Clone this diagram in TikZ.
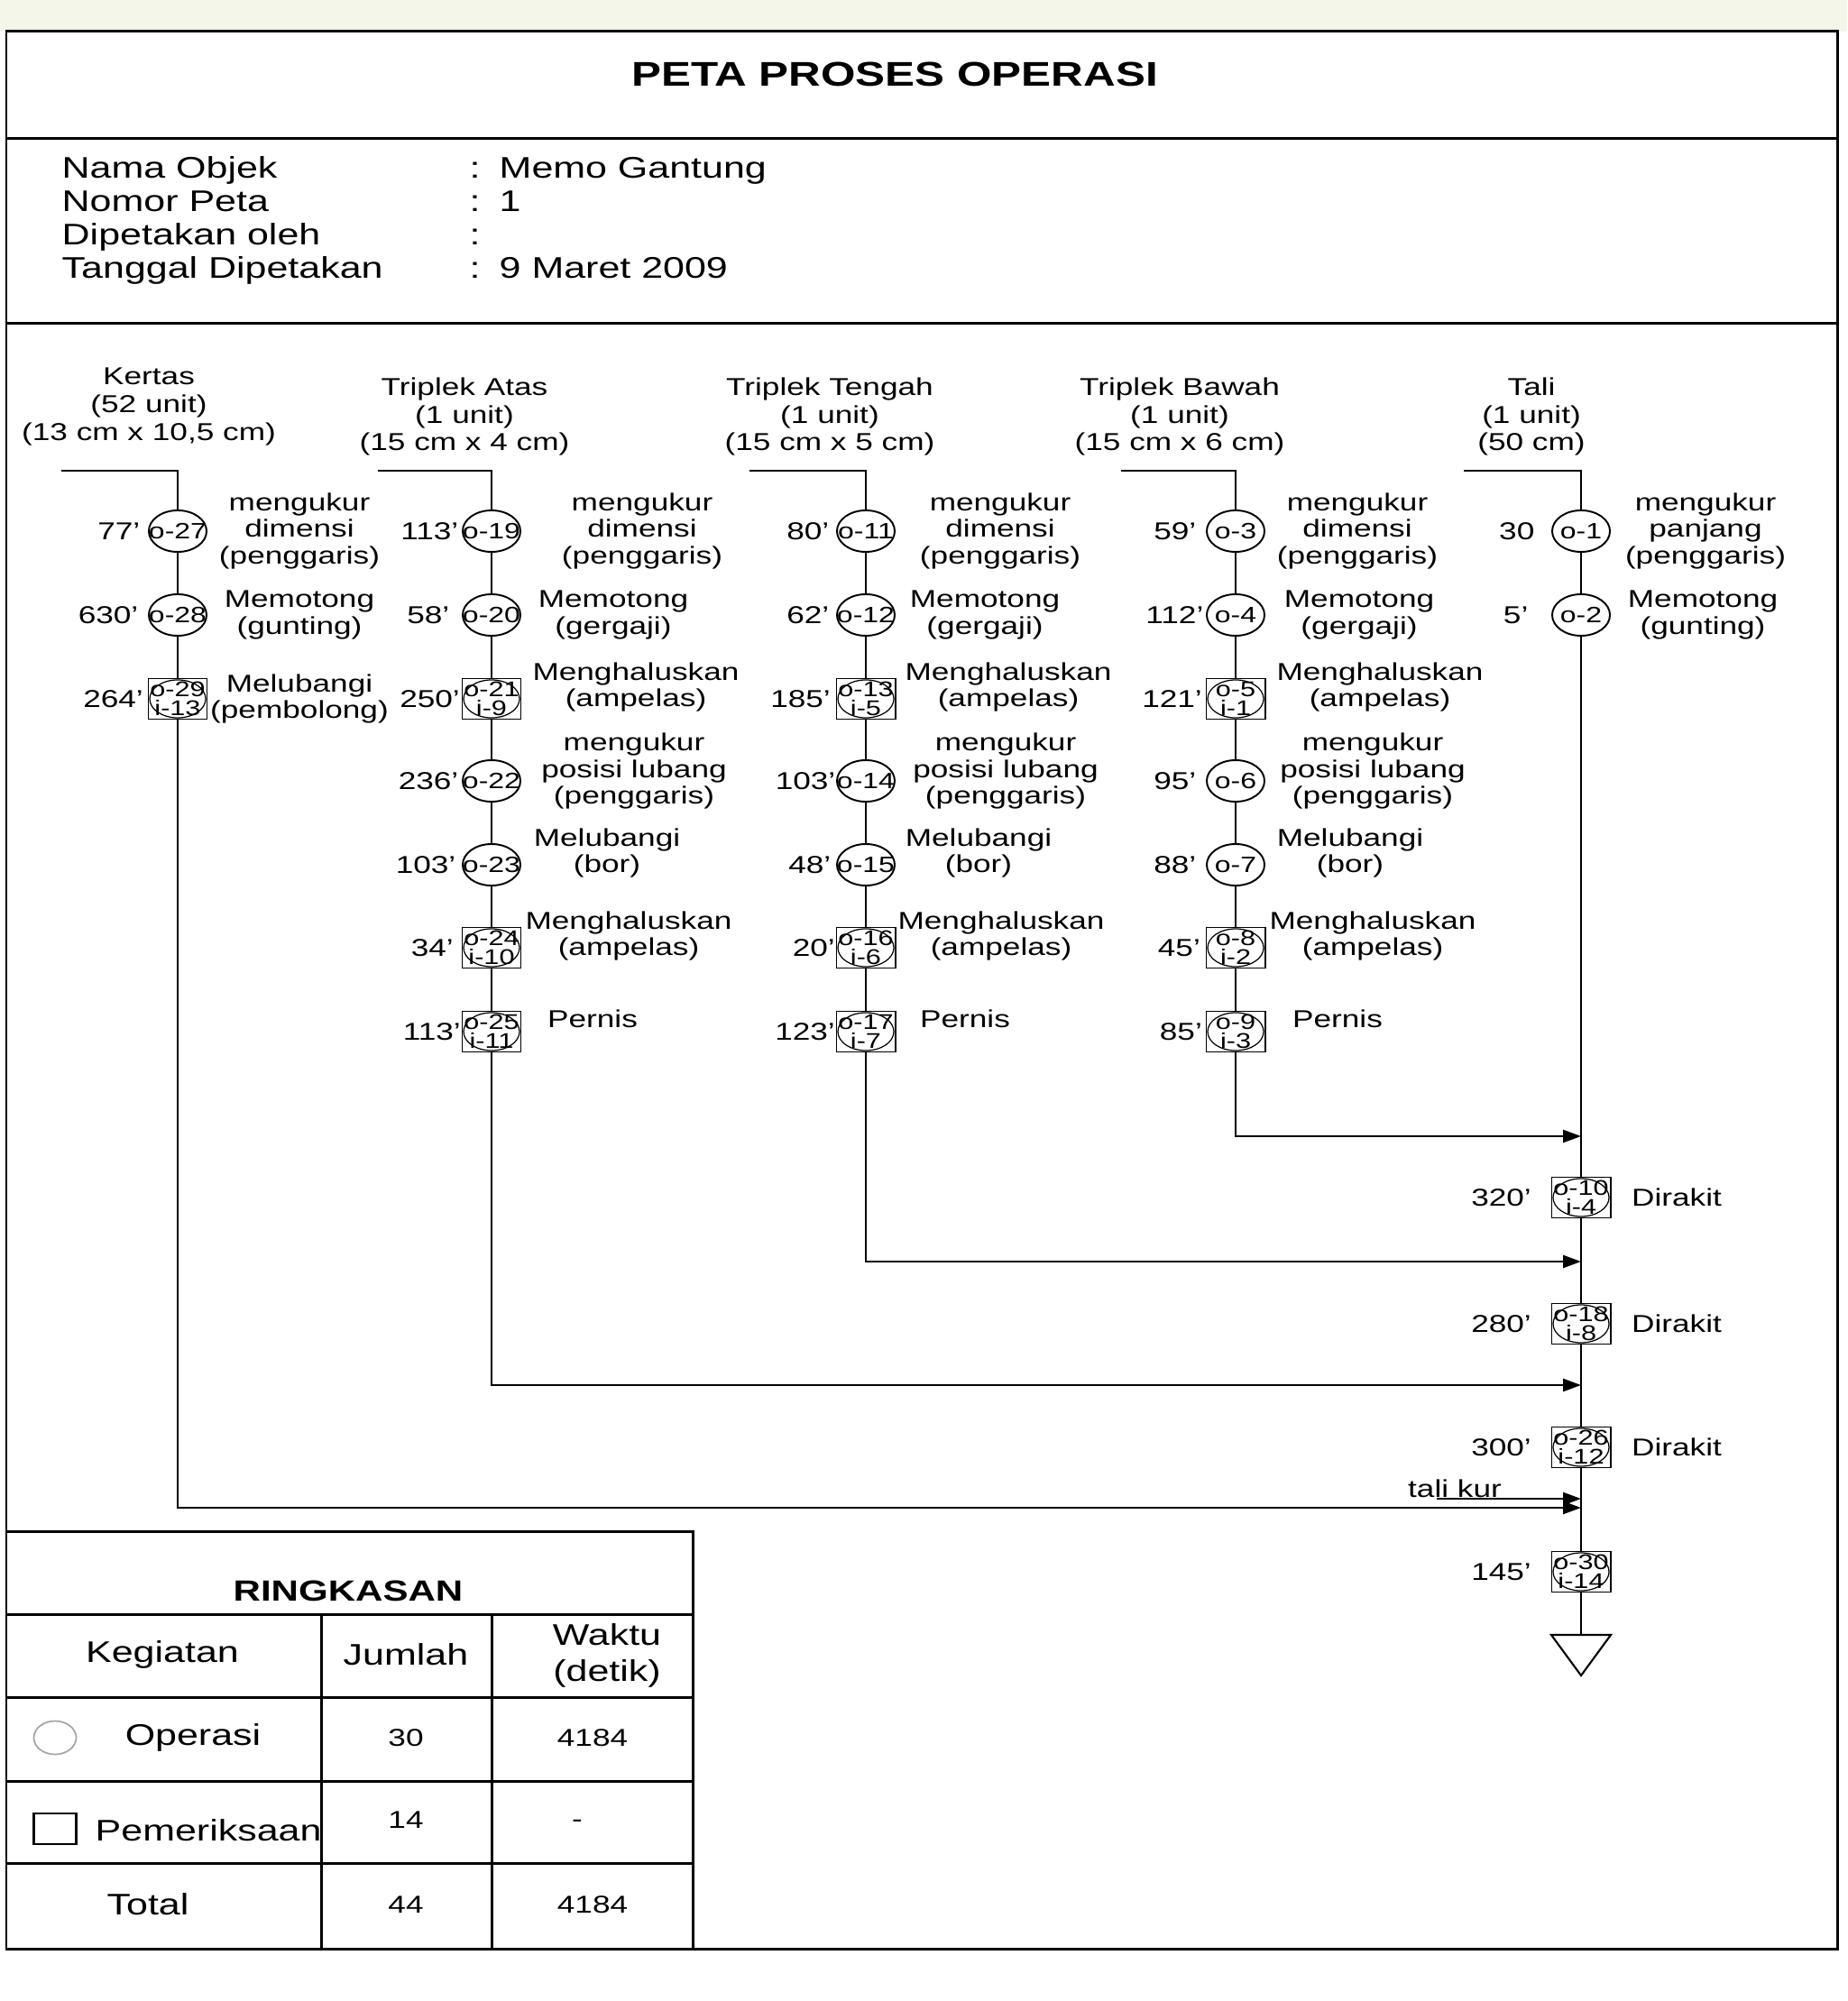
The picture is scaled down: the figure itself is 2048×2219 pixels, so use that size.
\documentclass[tikz,border=0pt]{standalone}
\usepackage{fontspec}
\setmainfont{Liberation Sans}[FakeStretch=1.3]
\usetikzlibrary{shapes.geometric,arrows.meta,positioning}
\definecolor{topband}{RGB}{243,246,232}
\newcommand{\PPfont}[2]{\fontsize{#1}{#2}\selectfont}
\tikzset{
  flow/.style={line width=0.7pt},
  arr/.style={line width=0.7pt,-{Triangle[length=0.2cm,width=0.14cm]}},
  opnode/.style={ellipse,draw,line width=0.55pt,minimum width=0.64cm,minimum height=0.46cm,
    inner xsep=-0.14cm,inner ysep=0pt,font=\PPfont{7}{7.5}},
  innode/.style={rectangle,draw,line width=0.55pt,minimum width=0.65cm,minimum height=0.45cm,
    inner sep=0pt,align=center,font=\PPfont{6.7}{6.1},
    path picture={\draw[line width=0.35pt] (path picture bounding box.center) ellipse (0.31cm and 0.21cm);}},
  timelbl/.style={inner sep=0pt,font=\PPfont{7.7}{8.5}},
  desclbl/.style={inner sep=0pt,align=center,font=\PPfont{7.7}{8.5}},
  colhead/.style={inner sep=0pt,align=center,font=\PPfont{7.7}{8.8}},
  infotext/.style={inner sep=0pt,anchor=base west,font=\PPfont{9.4}{11}},
  tabtext/.style={inner sep=0pt,align=center,font=\PPfont{9.4}{11.4}},
  tabnum/.style={inner sep=0pt,font=\PPfont{7.7}{9}},
  frameline/.style={line width=0.85pt},
}
% name, style, position, symbol label, time, gap, description, description shift
\newcommand{\PPstep}[8]{%
  \node[#2] (#1) at (#3) {#4};
  \node[timelbl,left=#6 of #1] (#1t) {#5};
  \node[desclbl] (#1d) at ([shift={(#8)}]#1.center) {#7};
}
\begin{document}
\begin{tikzpicture}[x=0.01cm,y=-0.01cm]
\useasboundingbox (0,0) rectangle (2048,2219);
\fill[white] (0,0) rectangle (2048,2219);
\fill[topband] (0,0) rectangle (2048,35);

% frame
\draw[frameline] (7,35) rectangle (2037,2161);
\draw[frameline] (7,154) -- (2037,154);
\draw[frameline] (7,359) -- (2037,359);

% title and info
\node[font=\bfseries\PPfont{10.8}{13}] (title) at (992,82) {PETA PROSES OPERASI};
\node[infotext] (i1) at (68,198) {Nama Objek};
\node[infotext] (i2) at (68,235) {Nomor Peta};
\node[infotext] (i3) at (68,272) {Dipetakan oleh};
\node[infotext] (i4) at (68,309) {Tanggal Dipetakan};
\node[infotext] (c1) at (520,198) {:};
\node[infotext] (c2) at (520,235) {:};
\node[infotext] (c3) at (520,272) {:};
\node[infotext] (c4) at (520,309) {:};
\node[infotext] (v1) at (553,198) {Memo Gantung};
\node[infotext] (v2) at (553,235) {1};
\node[infotext] (v4) at (553,309) {9 Maret 2009};

% column headers
\node[colhead] (hk) at (165,451) {Kertas\\(52 unit)\\(13 cm x 10,5 cm)};
\node[colhead] (ha) at (515,462) {Triplek Atas\\(1 unit)\\(15 cm x 4 cm)};
\node[colhead] (ht) at (920,462) {Triplek Tengah\\(1 unit)\\(15 cm x 5 cm)};
\node[colhead] (hb) at (1308,462) {Triplek Bawah\\(1 unit)\\(15 cm x 6 cm)};
\node[colhead] (hl) at (1698,462) {Tali\\(1 unit)\\(50 cm)};

% Kertas
\PPstep{k1}{opnode}{197,589}{o-27}{77'}{0.08cm}{mengukur\\dimensi\\(penggaris)}{135,0}
\PPstep{k2}{opnode}{197,682}{o-28}{630'}{0.10cm}{Memotong\\(gunting)}{135,0}
\PPstep{k3}{innode}{197,775}{o-29\\i-13}{264'}{0.04cm}{Melubangi\\(pembolong)}{135,0}

% Triplek Atas
\PPstep{a1}{opnode}{545,589}{o-19}{113'}{0.03cm}{mengukur\\dimensi\\(penggaris)}{167,0}
\PPstep{a2}{opnode}{545,682}{o-20}{58'}{0.13cm}{Memotong\\(gergaji)}{135,0}
\PPstep{a3}{innode}{545,775}{o-21\\i-9}{250'}{0.01cm}{Menghaluskan\\(ampelas)}{160,-13}
\PPstep{a4}{opnode}{545,866}{o-22}{236'}{0.03cm}{mengukur\\posisi lubang\\(penggaris)}{158,-11}
\PPstep{a5}{opnode}{545,959}{o-23}{103'}{0.06cm}{Melubangi\\(bor)}{128,-13}
\PPstep{a6}{innode}{545,1051}{o-24\\i-10}{34'}{0.08cm}{Menghaluskan\\(ampelas)}{152,-13}
\PPstep{a7}{innode}{545,1144}{o-25\\i-11}{113'}{0cm}{Pernis}{112,-14}

% Triplek Tengah
\PPstep{t1}{opnode}{960,589}{o-11}{80'}{0.07cm}{mengukur\\dimensi\\(penggaris)}{149,0}
\PPstep{t2}{opnode}{960,682}{o-12}{62'}{0.07cm}{Memotong\\(gergaji)}{132,0}
\PPstep{t3}{innode}{960,775}{o-13\\i-5}{185'}{0.05cm}{Menghaluskan\\(ampelas)}{158,-13}
\PPstep{t4}{opnode}{960,866}{o-14}{103'}{0cm}{mengukur\\posisi lubang\\(penggaris)}{155,-11}
\PPstep{t5}{opnode}{960,959}{o-15}{48'}{0.05cm}{Melubangi\\(bor)}{125,-13}
\PPstep{t6}{innode}{960,1051}{o-16\\i-6}{20'}{0cm}{Menghaluskan\\(ampelas)}{150,-13}
\PPstep{t7}{innode}{960,1144}{o-17\\i-7}{123'}{0cm}{Pernis}{110,-14}

% Triplek Bawah
\PPstep{b1}{opnode}{1370,589}{o-3}{59'}{0.10cm}{mengukur\\dimensi\\(penggaris)}{135,0}
\PPstep{b2}{opnode}{1370,682}{o-4}{112'}{0.02cm}{Memotong\\(gergaji)}{137,0}
\PPstep{b3}{innode}{1370,775}{o-5\\i-1}{121'}{0.03cm}{Menghaluskan\\(ampelas)}{160,-13}
\PPstep{b4}{opnode}{1370,866}{o-6}{95'}{0.10cm}{mengukur\\posisi lubang\\(penggaris)}{152,-11}
\PPstep{b5}{opnode}{1370,959}{o-7}{88'}{0.10cm}{Melubangi\\(bor)}{127,-13}
\PPstep{b6}{innode}{1370,1051}{o-8\\i-2}{45'}{0.05cm}{Menghaluskan\\(ampelas)}{152,-13}
\PPstep{b7}{innode}{1370,1144}{o-9\\i-3}{85'}{0.03cm}{Pernis}{113,-14}

% Tali
\PPstep{l1}{opnode}{1753,589}{o-1}{30}{0.18cm}{mengukur\\panjang\\(penggaris)}{138,0}
\PPstep{l2}{opnode}{1753,682}{o-2}{5'}{0.25cm}{Memotong\\(gunting)}{135,0}

% assembly
\PPstep{s1}{innode}{1753,1328}{o-10\\i-4}{320'}{0.21cm}{Dirakit}{106,0}
\PPstep{s2}{innode}{1753,1468}{o-18\\i-8}{280'}{0.21cm}{Dirakit}{106,0}
\PPstep{s3}{innode}{1753,1605}{o-26\\i-12}{300'}{0.21cm}{Dirakit}{106,0}
\node[innode] (s4) at (1753,1743) {o-30\\i-14};
\node[timelbl,left=0.21cm of s4] (s4t) {145'};
\coordinate (tri) at (1753,1813);
\draw[line width=0.6pt,line join=miter] ([xshift=-0.33cm]tri) -- ([xshift=0.33cm]tri) -- ([yshift=-0.45cm]tri) -- cycle;

% start lines
\coordinate (ks) at (68,522);   \coordinate (kc) at (197,522);
\coordinate (as) at (419,522);  \coordinate (ac) at (545,522);
\coordinate (ts) at (831,522);  \coordinate (tc) at (960,522);
\coordinate (bs) at (1243,522); \coordinate (bc) at (1370,522);
\coordinate (ls) at (1623,522); \coordinate (lc) at (1753,522);
\draw[flow] (ks) -- (kc) -- (k1);
\draw[flow] (as) -- (ac) -- (a1);
\draw[flow] (ts) -- (tc) -- (t1);
\draw[flow] (bs) -- (bc) -- (b1);
\draw[flow] (ls) -- (lc) -- (l1);

% vertical flows
\draw[flow] (k1) -- (k2); \draw[flow] (k2) -- (k3);
\draw[flow] (a1) -- (a2); \draw[flow] (a2) -- (a3); \draw[flow] (a3) -- (a4);
\draw[flow] (a4) -- (a5); \draw[flow] (a5) -- (a6); \draw[flow] (a6) -- (a7);
\draw[flow] (t1) -- (t2); \draw[flow] (t2) -- (t3); \draw[flow] (t3) -- (t4);
\draw[flow] (t4) -- (t5); \draw[flow] (t5) -- (t6); \draw[flow] (t6) -- (t7);
\draw[flow] (b1) -- (b2); \draw[flow] (b2) -- (b3); \draw[flow] (b3) -- (b4);
\draw[flow] (b4) -- (b5); \draw[flow] (b5) -- (b6); \draw[flow] (b6) -- (b7);
\draw[flow] (l1) -- (l2); \draw[flow] (l2) -- (s1);
\draw[flow] (s1) -- (s2); \draw[flow] (s2) -- (s3); \draw[flow] (s3) -- (s4);
\draw[flow] (s4) -- (tri);

% joining arrows
\coordinate (jb) at (1753,1260);
\coordinate (jt) at (1753,1399);
\coordinate (ja) at (1753,1536);
\coordinate (jk) at (1753,1672);
\draw[arr] (b7) |- (jb);
\draw[arr] (t7) |- (jt);
\draw[arr] (a7) |- (ja);
\draw[arr] (k3) |- (jk);
\node[desclbl] (tkl) at (1613,1651) {tali kur};
\coordinate (tks) at (1593,1662);
\coordinate (tke) at (1753,1662);
\draw[arr] (tks) -- (tke);

% summary table
\draw[frameline] (7,1698) -- (768,1698) -- (768,2161);
\draw[frameline] (7,1790) -- (768,1790);
\draw[frameline] (7,1882) -- (768,1882);
\draw[frameline] (7,1975) -- (768,1975);
\draw[frameline] (7,2066) -- (768,2066);
\draw[frameline] (356,1790) -- (356,2161);
\draw[frameline] (545,1790) -- (545,2161);
\node[font=\bfseries\PPfont{9.2}{11}] (ringk) at (386,1764) {RINGKASAN};
\node[tabtext] (thk) at (180,1835) {Kegiatan};
\node[tabtext] (thj) at (450,1835) {Jumlah};
\node[tabtext] (thw) at (673,1836) {Waktu\\(detik)};
\node[ellipse,draw=gray!70,line width=0.5pt,minimum width=0.47cm,minimum height=0.37cm,inner sep=0pt] (lgop) at (61,1927) {};
\node[tabtext] (rop) at (214,1927) {Operasi};
\node[tabnum] (rop2) at (450,1927) {30};
\node[tabnum] (rop3) at (657,1927) {4184};
\node[draw,line width=0.6pt,minimum width=0.47cm,minimum height=0.34cm,inner sep=0pt] (lgin) at (61,2028) {};
\node[tabtext,anchor=west] (rin) at (105,2030) {Pemeriksaan};
\node[tabnum] (rin2) at (450,2018) {14};
\node[tabnum] (rin3) at (640,2022) {-};
\node[tabtext] (rtot) at (164,2112) {Total};
\node[tabnum] (rt2) at (450,2112) {44};
\node[tabnum] (rt3) at (657,2112) {4184};
\end{tikzpicture}
\end{document}
